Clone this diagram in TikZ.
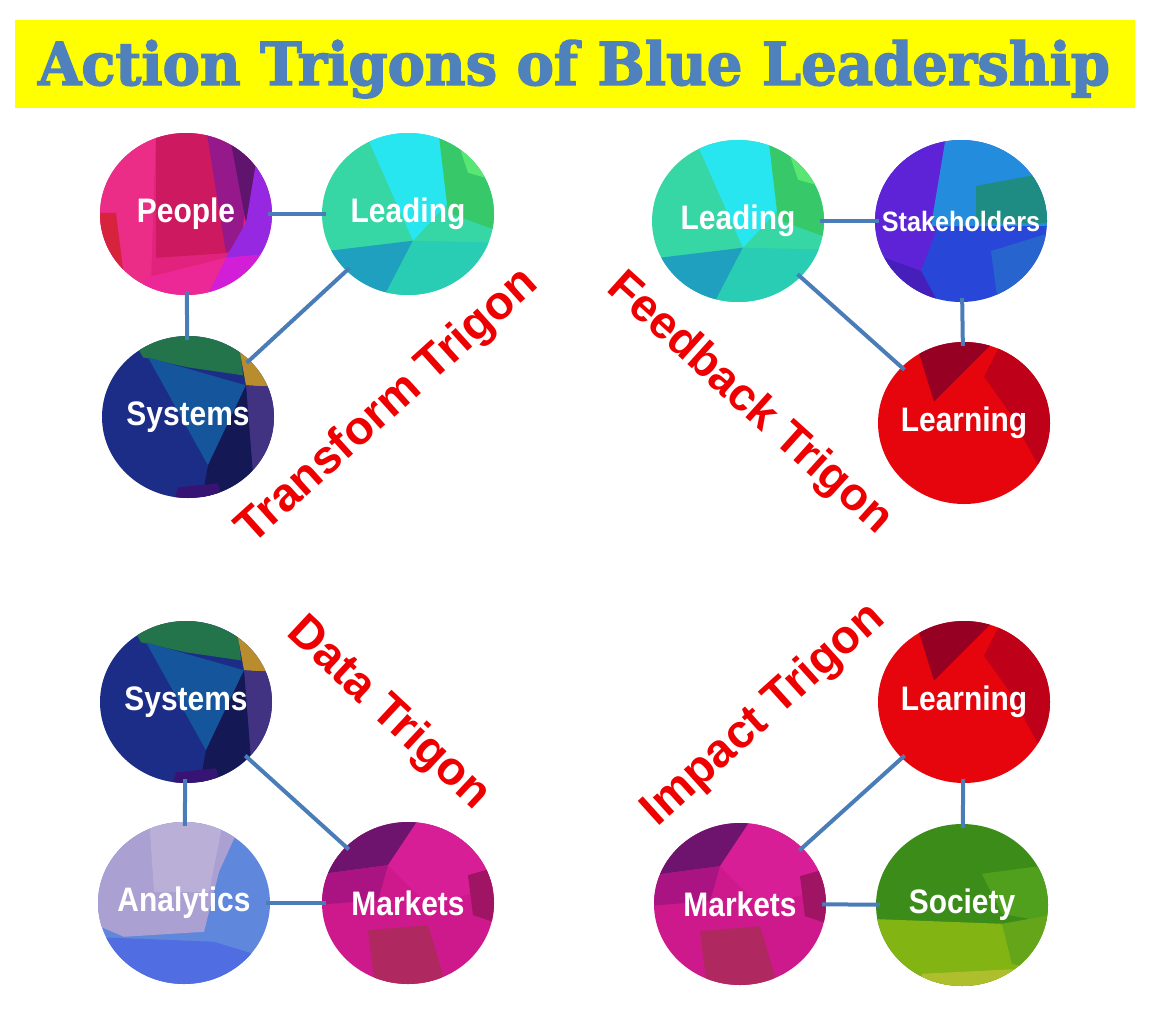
\documentclass[tikz,border=0pt]{standalone}
\usepackage{fontspec}
\usetikzlibrary{shapes.geometric}
\newfontfamily\labelfont{Liberation Sans}
\newfontfamily\titlefont{DejaVu Serif}[FakeBold=2.5]

%%% Colours
\definecolor{titleyellow}{RGB}{255,255,0}
\definecolor{titleblue}{RGB}{79,129,189}
\definecolor{linkblue}{RGB}{74,124,184}
\definecolor{trigonred}{RGB}{238,0,0}
%%% People
\definecolor{pplBase}{RGB}{225,35,125}
\definecolor{pplPink}{RGB}{235,45,135}
\definecolor{pplRed}{RGB}{215,35,60}
\definecolor{pplCrim}{RGB}{205,25,95}
\definecolor{pplPurp}{RGB}{150,25,140}
\definecolor{pplDark}{RGB}{95,20,110}
\definecolor{pplViol}{RGB}{150,40,225}
\definecolor{pplMag}{RGB}{210,30,215}
\definecolor{pplHot}{RGB}{235,40,150}
%%% Leading
\definecolor{ldBase}{RGB}{55,215,165}
\definecolor{ldCyan}{RGB}{40,230,240}
\definecolor{ldGreen}{RGB}{55,200,105}
\definecolor{ldLime}{RGB}{90,230,115}
\definecolor{ldBlue}{RGB}{30,160,190}
\definecolor{ldTeal}{RGB}{40,205,180}
\definecolor{ldDeep}{RGB}{40,190,130}
%%% Systems
\definecolor{sysBase}{RGB}{28,45,135}
\definecolor{sysGreen}{RGB}{35,115,75}
\definecolor{sysGold}{RGB}{185,140,45}
\definecolor{sysBlue}{RGB}{20,85,155}
\definecolor{sysPurp}{RGB}{65,50,130}
\definecolor{sysNavy}{RGB}{20,25,85}
\definecolor{sysViol}{RGB}{55,20,115}
%%% Stakeholders
\definecolor{stkBase}{RGB}{40,70,215}
\definecolor{stkPurp}{RGB}{95,35,215}
\definecolor{stkSky}{RGB}{35,140,220}
\definecolor{stkTeal}{RGB}{30,140,130}
\definecolor{stkDeep}{RGB}{70,30,185}
\definecolor{stkMid}{RGB}{40,100,205}
%%% Learning
\definecolor{lrnBase}{RGB}{230,5,12}
\definecolor{lrnDark}{RGB}{150,0,35}
\definecolor{lrnRight}{RGB}{190,0,25}
%%% Analytics
\definecolor{anBase}{RGB}{95,135,220}
\definecolor{anLav}{RGB}{170,160,210}
\definecolor{anPale}{RGB}{185,175,215}
\definecolor{anRoyal}{RGB}{80,110,225}
%%% Markets
\definecolor{mkBase}{RGB}{205,25,140}
\definecolor{mkDark}{RGB}{110,20,110}
\definecolor{mkPlum}{RGB}{170,20,130}
\definecolor{mkPink}{RGB}{215,30,150}
\definecolor{mkWine}{RGB}{160,20,100}
\definecolor{mkRose}{RGB}{175,40,95}
%%% Society
\definecolor{socBase}{RGB}{60,140,25}
\definecolor{socMid}{RGB}{80,160,30}
\definecolor{socLime}{RGB}{130,180,20}
\definecolor{socYell}{RGB}{175,190,45}
\definecolor{socOlive}{RGB}{100,165,25}

%%% Facets inside each ball (local units, centre at 0)
\newcommand{\peopleFacets}{%
  \fill[pplPink] (-95,-95) -- (-30,-95) -- (-35,60) -- (-95,60) -- cycle;
  \fill[pplRed] (-95,-10) -- (-70,-10) -- (-60,70) -- (-95,95) -- cycle;
  \fill[pplCrim] (-30,-95) -- (20,-95) -- (45,30) -- (-30,35) -- cycle;
  \fill[pplPurp] (20,-95) -- (70,-95) -- (55,20) -- (40,30) -- cycle;
  \fill[pplDark] (45,-80) -- (75,-70) -- (60,0) -- cycle;
  \fill[pplViol] (70,-60) -- (95,-60) -- (95,30) -- (40,35) -- (60,0) -- cycle;
  \fill[pplMag] (40,35) -- (95,30) -- (95,95) -- (10,95) -- cycle;
  \fill[pplHot] (-40,55) -- (40,35) -- (10,95) -- (-60,95) -- cycle;}
\newcommand{\leadingFacets}{%
  \fill[ldCyan] (-45,-95) -- (35,-95) -- (40,-20) -- (5,18) -- cycle;
  \fill[ldGreen] (30,-95) -- (95,-95) -- (95,10) -- (40,-10) -- cycle;
  \fill[ldLime] (45,-95) -- (95,-95) -- (95,-40) -- (60,-50) -- cycle;
  \fill[ldBlue] (-95,30) -- (5,18) -- (-35,95) -- (-95,95) -- cycle;
  \fill[ldTeal] (5,18) -- (95,20) -- (95,95) -- (-35,95) -- cycle;
  \fill[ldDeep] (-20,95) -- (95,45) -- (95,95) -- cycle;}
\newcommand{\systemsFacets}{%
  \fill[sysGreen] (-60,-95) -- (50,-95) -- (55,-50) -- (0,-58) -- (-45,-68) -- cycle;
  \fill[sysGold] (48,-95) -- (95,-95) -- (95,-38) -- (58,-40) -- cycle;
  \fill[sysBlue] (-40,-68) -- (58,-40) -- (20,40) -- cycle;
  \fill[sysPurp] (58,-40) -- (95,-38) -- (95,60) -- (65,50) -- cycle;
  \fill[sysNavy] (20,40) -- (58,-40) -- (65,50) -- (60,95) -- (10,95) -- cycle;
  \fill[sysViol] (-10,62) -- (30,58) -- (40,95) -- (-20,95) -- cycle;}
\newcommand{\stakeFacets}{%
  \fill[stkPurp] (-95,-95) -- (-15,-95) -- (-25,0) -- (-40,40) -- (-95,40) -- cycle;
  \fill[stkSky] (-15,-95) -- (95,-95) -- (95,-5) -- (-30,-5) -- cycle;
  \fill[stkTeal] (15,-45) -- (95,-60) -- (95,-8) -- (15,-8) -- cycle;
  \fill[stkDeep] (-95,20) -- (-40,40) -- (-10,95) -- (-95,95) -- cycle;
  \fill[stkMid] (30,20) -- (95,0) -- (95,95) -- (40,95) -- cycle;}
\newcommand{\learningFacets}{%
  \fill[lrnDark] (-50,-95) -- (35,-95) -- (-30,-30) -- cycle;
  \fill[lrnRight] (40,-95) -- (95,-95) -- (95,55) -- (75,35) -- (45,-20) -- (20,-55) -- cycle;}
\newcommand{\analyticsFacets}{%
  \fill[anLav] (-95,-95) -- (60,-95) -- (35,-40) -- (20,20) -- (-60,25) -- (-95,10) -- cycle;
  \fill[anPale] (-35,-95) -- (40,-95) -- (25,-20) -- (-30,-20) -- cycle;
  \fill[anRoyal] (-95,25) -- (30,30) -- (95,50) -- (95,95) -- (-95,95) -- cycle;}
\newcommand{\marketsFacets}{%
  \fill[mkDark] (-95,-95) -- (10,-95) -- (-20,-50) -- (-95,-40) -- cycle;
  \fill[mkPlum] (-95,-40) -- (-20,-50) -- (-30,-15) -- (-95,-10) -- cycle;
  \fill[mkPink] (10,-95) -- (95,-95) -- (95,-30) -- (20,-10) -- (-20,-50) -- cycle;
  \fill[mkWine] (60,-40) -- (95,-50) -- (95,10) -- (65,0) -- cycle;
  \fill[mkRose] (-40,15) -- (20,10) -- (35,60) -- (20,95) -- (-30,95) -- cycle;}
\newcommand{\societyFacets}{%
  \fill[socMid] (20,-40) -- (95,-50) -- (95,10) -- (40,0) -- cycle;
  \fill[socLime] (-95,5) -- (40,10) -- (95,10) -- (95,95) -- (-95,95) -- cycle;
  \fill[socOlive] (40,10) -- (95,0) -- (95,60) -- (50,50) -- cycle;
  \fill[socYell] (-40,60) -- (60,55) -- (60,95) -- (-40,95) -- cycle;}

%%% Ball text: no width, so the ellipse keeps its size
\newcommand{\balltext}[2][0.88]{\makebox[0pt]{\scalebox{#1}[1]{#2}}}

\begin{document}
\begin{tikzpicture}[x=1pt,y=-1pt,
    ball/.style={ellipse, minimum width=172pt, minimum height=162pt, inner sep=0pt,
                 text=white, font=\labelfont\bfseries\fontsize{34}{34}\selectfont},
    facets/.style={path picture={\begin{scope}[shift={(path picture bounding box.center)}]#1\end{scope}}},
    link/.style={draw=linkblue, line width=4pt, shorten >=-4pt, shorten <=-4pt},
    trigon/.style={text=trigonred, inner sep=0pt,
                   font=\labelfont\bfseries\fontsize{47}{47}\selectfont}]
    \useasboundingbox (0,0) rectangle (1155,1025);
    %%%  Title banner
    \fill[titleyellow] (15,20) rectangle (1135,108);
    \node[anchor=base, inner sep=0pt, text=titleblue] (title) at (574,85)
        {\resizebox{1072pt}{45pt}{\titlefont\bfseries Action Trigons of Blue Leadership}};

    %%%  Transform trigon (top left)
    \node[ball, fill=pplBase, facets=\peopleFacets] (tlPeople) at (186,214) {\balltext{People}};
    \node[ball, fill=ldBase, facets=\leadingFacets] (tlLeading) at (408,214) {\balltext{Leading}};
    \node[ball, fill=sysBase, facets=\systemsFacets] (tlSystems) at (188,417) {\balltext{Systems}};
    \draw[link] (tlPeople) -- (tlLeading);
    \draw[link] (tlPeople) -- (tlSystems);
    \draw[link] (tlLeading) -- (tlSystems);
    \node[trigon, rotate=42] (tfTrigon) at (388,407) {Transform Trigon};

    %%%  Feedback trigon (top right)
    \node[ball, fill=ldBase, facets=\leadingFacets] (trLeading) at (738,221) {\balltext{Leading}};
    \node[ball, fill=stkBase, facets=\stakeFacets] (trStake) at (961,221)
        {\fontsize{28}{28}\selectfont\balltext[0.9]{Stakeholders}};
    \node[ball, fill=lrnBase, facets=\learningFacets] (trLearning) at (964,423) {\balltext{Learning}};
    \draw[link] (trLeading) -- (trStake);
    \draw[link] (trStake) -- (trLearning);
    \draw[link] (trLeading) -- (trLearning);
    \node[trigon, rotate=-42, scale=0.98] (fbTrigon) at (749,404) {Feedback Trigon};

    %%%  Data trigon (bottom left)
    \node[ball, fill=sysBase, facets=\systemsFacets] (blSystems) at (186,702) {\balltext{Systems}};
    \node[ball, fill=anBase, facets=\analyticsFacets] (blAnalytics) at (184,903) {\balltext{Analytics}};
    \node[ball, fill=mkBase, facets=\marketsFacets] (blMarkets) at (408,903) {\balltext{Markets}};
    \draw[link] (blSystems) -- (blAnalytics);
    \draw[link] (blAnalytics) -- (blMarkets);
    \draw[link] (blSystems) -- (blMarkets);
    \node[trigon, rotate=-43] (dtTrigon) at (388,714) {Data Trigon};

    %%%  Impact trigon (bottom right)
    \node[ball, fill=lrnBase, facets=\learningFacets] (brLearning) at (964,702) {\balltext{Learning}};
    \node[ball, fill=mkBase, facets=\marketsFacets] (brMarkets) at (740,904) {\balltext{Markets}};
    \node[ball, fill=socBase, facets=\societyFacets] (brSociety) at (962,905) {\balltext{Society}};
    \draw[link] (brLearning) -- (brSociety);
    \draw[link] (brMarkets) -- (brSociety);
    \draw[link] (brMarkets) -- (brLearning);
    \node[trigon, rotate=42] (imTrigon) at (764,715) {Impact Trigon};
\end{tikzpicture}
\end{document}
